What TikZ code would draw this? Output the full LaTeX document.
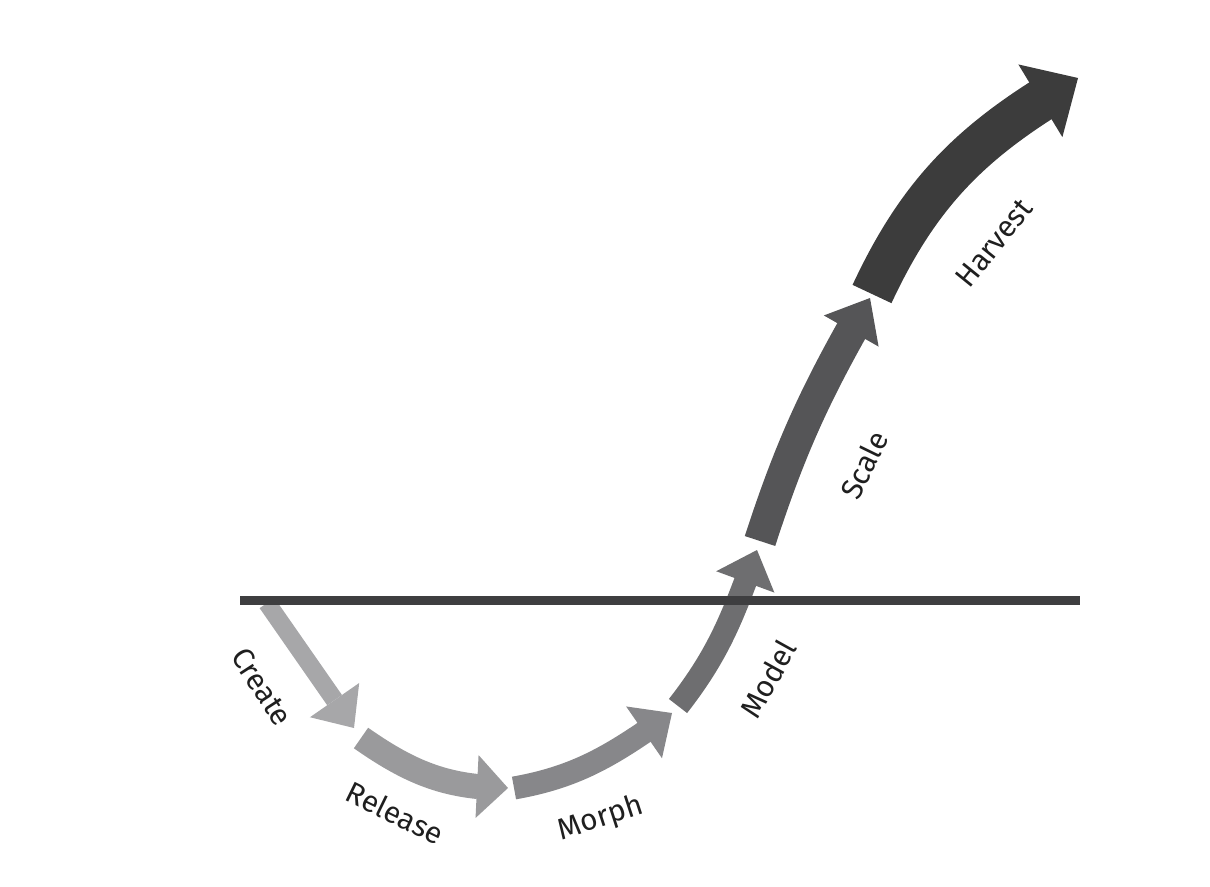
\documentclass[tikz,border=0pt]{standalone}
\usepackage{fontspec}
\usetikzlibrary{arrows.meta, bending}
\newfontfamily\stagefont{Fira Sans}
\begin{document}
\begin{tikzpicture}[x = 0.02cm, y = 0.02cm,
		stage/.style = {line width = #1},
		stagelabel/.style = {font = \stagefont\fontsize{17}{20}\selectfont, text = black!88, inner sep = 0pt}]
			\definecolor{gCreate}{HTML}{A7A7A9}
			\definecolor{gRelease}{HTML}{9A9A9C}
			\definecolor{gMorph}{HTML}{87878A}
			\definecolor{gModel}{HTML}{6E6E70}
			\definecolor{gScale}{HTML}{555557}
			\definecolor{gHarvest}{HTML}{3C3C3C}
			\definecolor{gLine}{HTML}{3E3E40}
			\useasboundingbox (0,0) rectangle (1210,-886);
			
			\coordinate (cr1) at (267,-603);
			\coordinate (cr2) at (354,-728);
			\coordinate (re1) at (361,-738);
			\coordinate (re2) at (508,-788);
			\coordinate (mo1) at (514,-788);
			\coordinate (mo2) at (672,-713);
			\coordinate (md1) at (678,-706);
			\coordinate (md2) at (757,-550);
			\coordinate (sc1) at (760,-541);
			\coordinate (sc2) at (870,-298);
			\coordinate (ha1) at (872,-294);
			\coordinate (ha2) at (1078,-78);
			\coordinate (l0) at (240,-600.5);
			\coordinate (l1) at (1080,-600.5);
			
			\draw[stage = 0.36cm, color = gCreate, -{Triangle[width = 1.2cm, length = 0.68cm, line width = 0pt]}] (cr1) -- (cr2);
			\draw[stage = 0.5cm, color = gRelease, -{Triangle[width = 1.26cm, length = 0.62cm, line width = 0pt]}] (re1) to[out = -35, in = 180] (re2);
			\draw[stage = 0.46cm, color = gMorph, -{Triangle[width = 1.26cm, length = 0.68cm, line width = 0pt]}] (mo1) to[out = 10, in = 215] (mo2);
			\draw[stage = 0.46cm, color = gModel, -{Triangle[width = 1.24cm, length = 0.68cm, line width = 0pt]}] (md1) to[out = 52, in = 250] (md2);
			\draw[stage = 0.64cm, color = gScale, -{Triangle[width = 1.26cm, length = 0.76cm, line width = 0pt]}] (sc1) to[out = 72, in = 240] (sc2);
			\draw[stage = 0.86cm, color = gHarvest, -{Triangle[width = 1.7cm, length = 0.88cm, line width = 0pt]}] (ha1) to[out = 65, in = 210] (ha2);
			
			\draw[line width = 0.18cm, color = gLine] (l0) -- (l1);
			
			\foreach \t/\x/\y/\a in {Create/262/-687/-57, Release/395/-813/-26, Morph/601/-819/18, Model/768/-679/61, Scale/864/-465/64, Harvest/994/-243/51}{
				\node[stagelabel, rotate = \a] (\t) at (\x,\y) {\t};
			}
		\end{tikzpicture}
\end{document}
